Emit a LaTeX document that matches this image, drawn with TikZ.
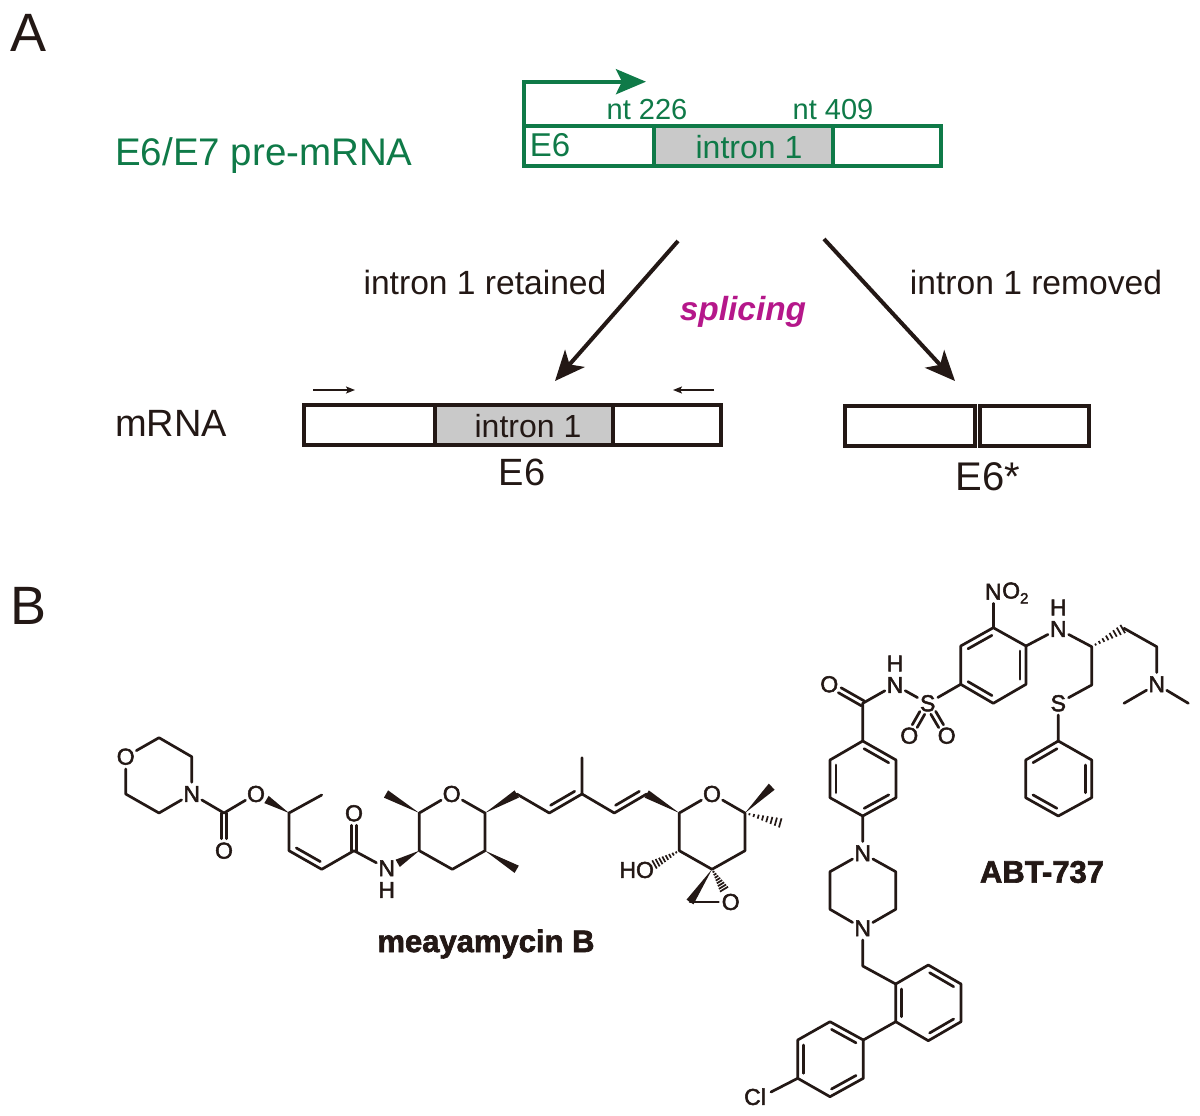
\documentclass[tikz,border=0pt]{standalone}
\usepackage{fontspec}
\setmainfont{Liberation Sans}
\newfontfamily\atomf[FakeBold=2.2]{Liberation Sans}
\usetikzlibrary{calc,arrows.meta}
\definecolor{gr}{HTML}{0F7A48}
\definecolor{ink}{HTML}{231815}
\definecolor{mag}{HTML}{B5178A}
\definecolor{intr}{HTML}{C9C9C9}
\newcommand\fsz[1]{\fontsize{#1}{#1}\selectfont}
\newcommand\inbond[3]{\draw[bond,shorten <=5pt,shorten >=5pt] ($(#1)!6pt!#3:(#2)$) -- ($(#2)!6pt!-#3:(#1)$);}
\newcommand\symbond[4]{%
 \draw[bond,shorten <=#3,shorten >=#4] ($(#1)!2.8pt!90:(#2)$) -- ($(#2)!2.8pt!-90:(#1)$);
 \draw[bond,shorten <=#3,shorten >=#4] ($(#1)!2.8pt!-90:(#2)$) -- ($(#2)!2.8pt!90:(#1)$);}
\newcommand\wedgeb[2]{\fill[ink] (#1) -- ($(#2)!4.2pt!90:(#1)$) -- ($(#2)!4.2pt!-90:(#1)$) -- cycle;}
\newcommand\hashb[2]{\foreach \t in {.12,.24,.36,.48,.60,.72,.84,.96}{%
 \pgfmathsetlengthmacro\hw{\t*4.4pt+.5pt}%
 \draw[ink,line width=1.7pt] ($(#1)!\t!(#2)!\hw!90:(#2)$) -- ($(#1)!\t!(#2)!\hw!-90:(#2)$);}}
\tikzset{
 bond/.style={ink,line width=2.7pt,line cap=round,line join=round},
 atom/.style={circle,inner sep=0pt,minimum size=23pt,text=ink,font=\atomf\fsz{23}},
 atomtxt/.style={inner sep=0pt,text=ink,font=\atomf\fsz{23}},
 gbox/.style={draw=gr,line width=4pt},
 kbox/.style={draw=ink,line width=4pt},
 gtxt/.style={text=gr,inner sep=0pt,font=\fsz{26}},
 ktxt/.style={text=ink,inner sep=0pt,font=\fsz{33.6}},
 bigarrow/.style={ink,line width=4pt,-{Stealth[length=30pt,width=26pt,inset=8pt]}},
 smallarrow/.style={ink,line width=1.6pt,-{Stealth[length=9pt,width=7pt,inset=2pt]}},
 title/.style={text=ink,inner sep=0pt,font=\atomf\fsz{31}\bfseries},
 panel/.style={text=ink,inner sep=0pt,font=\fsz{54}},
}
\begin{document}
\begin{tikzpicture}[x=1pt,y=-1pt]
\useasboundingbox (0,0) rectangle (1200,1116);
\fill[white] (0,0) rectangle (1200,1116);
% ---- panel letters
\node[panel] (pa) at (29,33) {A};
\node[panel] (pb) at (29,606) {B};
% ---- pre-mRNA
\node[gtxt,font=\fsz{38.5}] (pre) at (264,156) {E6/E7 pre-mRNA};
\node[rectangle,gbox,fill=white,minimum width=417pt,minimum height=40pt,inner sep=0pt,outer sep=0pt] (gb) at (732,146) {};
\node[rectangle,gbox,fill=intr,minimum width=178.5pt,minimum height=40pt,inner sep=0pt,outer sep=0pt] (gi) at (743.5,146) {};
\node[gtxt,font=\fsz{32}] (gin) at (749,147) {intron 1};
\node[gtxt,font=\fsz{33}] (ge6) at (550,145) {E6};
\node[gtxt,font=\fsz{29}] (nt1) at (647,110) {nt 226};
\node[gtxt,font=\fsz{29}] (nt2) at (833,110) {nt 409};
\coordinate (tss) at (gb.north west);
\coordinate (tipg) at (646,81.7);
\draw[gr,line width=4pt,line join=miter,-{Stealth[length=30pt,width=25pt,inset=6pt]}] (tss) |- (tipg);
% ---- arrows
\coordinate (sl) at (678,241); \coordinate (el) at (555,381);
\coordinate (sr) at (824,239); \coordinate (er) at (955,381);
\draw[bigarrow] (sl) -- (el);
\draw[bigarrow] (sr) -- (er);
\node[ktxt] (lret) at (485,282) {intron 1 retained};
\node[ktxt] (lrem) at (1036,282) {intron 1 removed};
\node[text=mag,inner sep=0pt,font=\fsz{33.4}\bfseries\itshape] (spl) at (743,312) {splicing};
% ---- mRNA
\node[ktxt,font=\fsz{38}] (mr) at (171,423) {mRNA};
\coordinate (p1a) at (313,390); \coordinate (p1b) at (355,390);
\coordinate (p2a) at (714,390); \coordinate (p2b) at (673,390);
\draw[smallarrow] (p1a) -- (p1b);
\draw[smallarrow] (p2a) -- (p2b);
\node[rectangle,kbox,fill=white,minimum width=417pt,minimum height=40pt,inner sep=0pt,outer sep=0pt] (kb) at (512,425) {};
\node[rectangle,kbox,fill=intr,minimum width=178.5pt,minimum height=40pt,inner sep=0pt,outer sep=0pt] (ki) at (524,425) {};
\node[ktxt,font=\fsz{32}] (kin) at (528,426) {intron 1};
\node[ktxt,font=\fsz{38}] (e6) at (522,472) {E6};
\node[rectangle,kbox,minimum width=130pt,minimum height=40pt,inner sep=0pt,outer sep=0pt] (r1) at (910,425.5) {};
\node[rectangle,kbox,minimum width=109pt,minimum height=40pt,inner sep=0pt,outer sep=0pt] (r2) at (1034,425.5) {};
\node[ktxt,font=\fsz{40}] (e6s) at (988,477) {E6*};
% ---- titles
\node[title] (tm) at (486,944) {meayamycin B};
\node[title] (ta) at (1042,872) {ABT-737};
% ---- meayamycin B atoms
\node[atom] (mO1) at (125.7,756.7) {O};
\coordinate (m1) at (159,737.7);
\coordinate (m2) at (191.7,756.7);
\node[atom] (mN1) at (191.7,794) {N};
\coordinate (m3) at (159,813);
\coordinate (m4) at (125.7,794);
\coordinate (mC) at (224,813);
\node[atom] (mO2) at (224,850.7) {O};
\node[atom] (mO3) at (256,794) {O};
\coordinate (mw1) at (266.5,799.5);
\coordinate (m5) at (289,813);
\coordinate (m6) at (321.7,795);
\coordinate (m7) at (289,850.7);
\coordinate (m8) at (321.7,869.3);
\coordinate (m9) at (354,850.7);
\node[atom] (mO4) at (354,813.3) {O};
\node[atom] (mN2) at (386.7,868.3) {N};
\node[atomtxt] (mH2) at (386.7,890) {H};
\coordinate (m10) at (419.3,850.7);
\coordinate (mw2) at (397.7,863.3);
\coordinate (m11) at (419.3,813);
\coordinate (m12) at (386,794);
\node[atom] (mO5) at (451.7,794) {O};
\coordinate (m13) at (485,813);
\coordinate (m14) at (485,850.7);
\coordinate (m15) at (452.3,869.3);
\coordinate (m16) at (516.7,869.3);
\coordinate (m17) at (516.7,794);
\coordinate (m18) at (549.3,813);
\coordinate (m19) at (582,794);
\coordinate (m20) at (582,757.7);
\coordinate (m21) at (614.3,813);
\coordinate (m22) at (646.7,794);
\coordinate (m23) at (679.3,813);
\node[atom] (mO6) at (712,794) {O};
\coordinate (m24) at (745,813);
\coordinate (m25) at (771.7,786.7);
\coordinate (m26) at (781.7,823.3);
\coordinate (m27) at (745,850.7);
\coordinate (m28) at (712,869.3);
\coordinate (m29) at (679.3,850.7);
\node[atomtxt] (mHO) at (636.7,870) {HO};
\coordinate (mw3) at (653.5,865);
\coordinate (m30) at (690,902);
\node[atom] (mO7) at (730.7,902) {O};
\coordinate (mw4) at (724.5,890);
% ---- meayamycin B bonds
\draw[bond] (mO1) -- (m1) -- (m2) -- (mN1) -- (m3) -- (m4) -- (mO1);
\draw[bond] (mN1) -- (mC) -- (mO3);
\symbond{mC}{mO2}{0pt}{12pt}
\wedgeb{m5}{mw1}
\draw[bond] (m6) -- (m5) -- (m7) -- (m8) -- (m9) -- (mN2);
\inbond{m7}{m8}{90}
\symbond{m9}{mO4}{0pt}{12pt}
\wedgeb{m10}{mw2}
\draw[bond] (m10) -- (m11) -- (mO5) -- (m13) -- (m14) -- (m15) -- (m10);
\wedgeb{m11}{m12}
\wedgeb{m13}{m17}
\wedgeb{m14}{m16}
\draw[bond] (m17) -- (m18) -- (m19) -- (m20);
\inbond{m18}{m19}{90}
\draw[bond] (m19) -- (m21) -- (m22);
\inbond{m21}{m22}{90}
\wedgeb{m23}{m22}
\draw[bond] (m23) -- (mO6) -- (m24) -- (m27) -- (m28) -- (m29) -- (m23);
\wedgeb{m24}{m25}
\hashb{m24}{m26}
\hashb{m29}{mw3}
\wedgeb{m28}{m30}
\hashb{m28}{mw4}
\draw[bond] (m30) -- (mO7);
% ---- ABT-737 atoms
\node[atom] (aO1) at (829.3,684.3) {O};
\coordinate (aC) at (862.7,703.3);
\node[atom] (aN1) at (895,685) {N};
\node[atomtxt] (aH1) at (895,663.5) {H};
\node[atom] (aS) at (927.7,703.3) {S};
\node[atom] (aO2) at (909.3,735.7) {O};
\node[atom] (aO3) at (946.7,735.7) {O};
\coordinate (c1) at (960.7,684.3);
\coordinate (c2) at (960.7,646);
\coordinate (c3) at (993.3,627.7);
\coordinate (c4) at (1026,646);
\coordinate (c5) at (1026,684.3);
\coordinate (c6) at (993.3,703.3);
\node[atom] (aNn) at (993.3,591.7) {N};
\node[atomtxt,anchor=west] (aO4) at (1002,593) {O\raisebox{-5pt}{\fsz{15}2}};
\node[atom] (aN2) at (1058.3,629) {N};
\node[atomtxt] (aH2) at (1058.3,607.5) {H};
\coordinate (d1) at (1091.7,646.7);
\coordinate (d2) at (1124,628.3);
\coordinate (d3) at (1156.7,646.7);
\node[atom] (aN3) at (1156.7,684.3) {N};
\coordinate (d4) at (1124,703.3);
\coordinate (d5) at (1188.3,703.3);
\coordinate (d6) at (1091.7,685);
\node[atom] (aS2) at (1058.3,703.3) {S};
\coordinate (e1) at (1058.3,741);
\coordinate (e2) at (1091.7,760);
\coordinate (e3) at (1091.7,797.7);
\coordinate (e4) at (1058.3,816);
\coordinate (e5) at (1025.7,797.7);
\coordinate (e6p) at (1025.7,760);
\coordinate (f1) at (862.7,741);
\coordinate (f2) at (896,760);
\coordinate (f3) at (896,797.7);
\coordinate (f4) at (862.7,816);
\coordinate (f5) at (830,797.7);
\coordinate (f6) at (830,760);
\node[atom] (aN4) at (862.7,853.3) {N};
\coordinate (g1) at (895.7,871.7);
\coordinate (g2) at (895.7,909.3);
\node[atom] (aN5) at (862.7,928.3) {N};
\coordinate (g3) at (830,909.3);
\coordinate (g4) at (830,871.7);
\coordinate (h0) at (862.7,966);
\coordinate (h1) at (895.7,984);
\coordinate (h2) at (928.3,965);
\coordinate (h3) at (961,984);
\coordinate (h4) at (961,1021.7);
\coordinate (h5) at (928.3,1040.7);
\coordinate (h6) at (895.7,1021.7);
\coordinate (i1) at (863.3,1040);
\coordinate (i2) at (830,1021.7);
\coordinate (i3) at (797.7,1040);
\coordinate (i4) at (797.7,1078.3);
\coordinate (i5) at (830,1096.7);
\coordinate (i6) at (863.3,1078.3);
\node[atomtxt] (aCl) at (755,1096.7) {Cl};
\coordinate (clb) at (771,1092);
% ---- ABT-737 bonds
\symbond{aC}{aO1}{0pt}{12pt}
\draw[bond] (aN1) -- (aC) -- (f1);
\draw[bond] (aN1) -- (aS) -- (c1);
\symbond{aS}{aO2}{11pt}{11pt}
\symbond{aS}{aO3}{11pt}{11pt}
\draw[bond] (c1) -- (c2) -- (c3) -- (c4) -- (c5) -- (c6) -- cycle;
\inbond{c2}{c3}{-90}
\inbond{c4}{c5}{-90}
\inbond{c6}{c1}{-90}
\draw[bond] (c3) -- (aNn);
\draw[bond] (c4) -- (aN2) -- (d1);
\hashb{d1}{d2}
\draw[bond] (d2) -- (d3) -- (aN3) -- (d4);
\draw[bond] (aN3) -- (d5);
\draw[bond] (d1) -- (d6) -- (aS2) -- (e1);
\draw[bond] (e1) -- (e2) -- (e3) -- (e4) -- (e5) -- (e6p) -- cycle;
\inbond{e6p}{e1}{-90}
\inbond{e2}{e3}{-90}
\inbond{e4}{e5}{-90}
\draw[bond] (f1) -- (f2) -- (f3) -- (f4) -- (f5) -- (f6) -- cycle;
\inbond{f1}{f2}{-90}
\inbond{f3}{f4}{-90}
\inbond{f5}{f6}{-90}
\draw[bond] (f4) -- (aN4) -- (g1) -- (g2) -- (aN5) -- (g3) -- (g4) -- (aN4);
\draw[bond] (aN5) -- (h0) -- (h1);
\draw[bond] (h1) -- (h2) -- (h3) -- (h4) -- (h5) -- (h6) -- cycle;
\inbond{h6}{h1}{-90}
\inbond{h2}{h3}{-90}
\inbond{h4}{h5}{-90}
\draw[bond] (h6) -- (i1);
\draw[bond] (i1) -- (i6) -- (i5) -- (i4) -- (i3) -- (i2) -- cycle;
\inbond{i2}{i1}{-90}
\inbond{i6}{i5}{-90}
\inbond{i4}{i3}{-90}
\draw[bond] (i4) -- (clb);
\end{tikzpicture}
\end{document}
